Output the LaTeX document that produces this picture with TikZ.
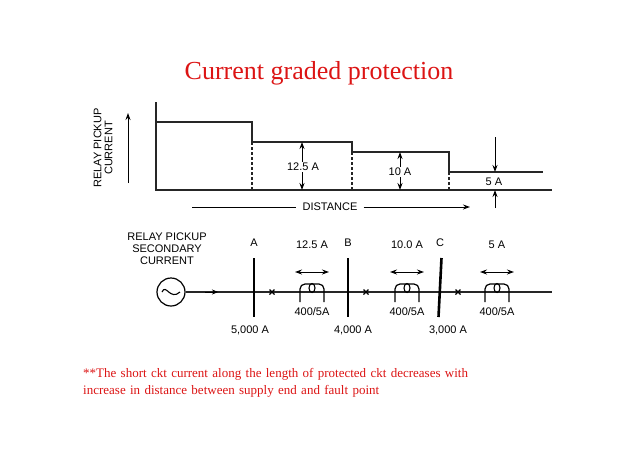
\documentclass[tikz,border=0pt]{standalone}
\usepackage{fontspec}
\setmainfont{Liberation Serif}
\newfontfamily\diag{Liberation Sans}
\usetikzlibrary{arrows.meta}
\definecolor{tred}{RGB}{220,20,20}
\begin{document}
\begin{tikzpicture}[x=1pt,y=-1pt,
  ln/.style={line width=1.2pt,black!85},
  lab/.style={font=\diag\fontsize{11}{12}\selectfont,inner sep=0pt},
  bus/.style={line width=2.6pt},
  dar/.style={line width=1pt,{Stealth[length=7pt,width=5pt]}-{Stealth[length=7pt,width=5pt]}},
  sar/.style={line width=1pt,-{Stealth[length=7pt,width=5pt]}}]
\useasboundingbox (0,0) rectangle (638,451);
\node[text=tred,font=\fontsize{26}{28}\selectfont] (title) at (319,73) {Current graded protection};
% top graph
\coordinate (o) at (156,190);
\coordinate (ytop) at (156,102);
\coordinate (xend) at (552,190);
\draw[ln] (ytop) -- (o) -- (xend);
\draw[ln] (156,122) -- (252,122) -- (252,142) -- (352,142) -- (352,152) -- (449,152) -- (449,172) -- (543,172);
\foreach \x/\t in {252/142,352/152,449/172} \draw[ln,dashed,dash pattern=on 3pt off 2pt] (\x,\t) -- (\x,190);
\coordinate (a1t) at (302,142); \coordinate (a1b) at (302,190);
\draw[dar] (a1t) -- (a1b);
\node[lab,fill=white,inner sep=1.5pt] (l125) at (303,167) {12.5 A};
\coordinate (a2t) at (400,152); \coordinate (a2b) at (400,190);
\draw[dar] (a2t) -- (a2b);
\node[lab,fill=white,inner sep=1.5pt] (l10) at (400,172) {10 A};
\coordinate (a3s) at (495,137); \coordinate (a3e) at (495,172);
\coordinate (a4s) at (495,208); \coordinate (a4e) at (495,190);
\draw[sar] (a3s) -- (a3e);
\draw[sar] (a4s) -- (a4e);
\node[lab] (l5) at (494,182) {5 A};
\coordinate (ya) at (128,183); \coordinate (yb) at (128,113);
\draw[sar] (ya) -- (yb);
\node[lab,rotate=90,align=center,font=\diag\fontsize{11}{11}\selectfont] (ylab) at (103,148) {RELAY PICKUP\\CURRENT};
\node[lab,inner xsep=6pt] (dist) at (330,207) {DISTANCE};
\coordinate (d1) at (192,207); \coordinate (d2) at (470,207);
\draw[line width=1pt] (d1) -- (dist.west);
\draw[sar] (dist.east) -- (d2);
% bottom one-line diagram
\node[circle,draw,line width=1.2pt,minimum size=28pt,inner sep=0pt] (src) at (171,292) {};
\draw[line width=1.1pt] (162,292) .. controls (166,283) and (170,301) .. (180,292);
\coordinate (lend) at (552,292);
\draw[ln] (src.east) -- (lend);
\coordinate (am) at (218,292);
\draw[-{Stealth[length=6pt,width=5pt]}] (205,292) -- (am);
\node[lab,align=center,font=\diag\fontsize{11}{12}\selectfont] (rps) at (167,249) {RELAY PICKUP\\SECONDARY\\CURRENT};
\foreach \x/\n/\d in {254/A/0,348/B/0,440/C/3}{
  \coordinate (bt\n) at (\x+\d/2,258); \coordinate (bb\n) at (\x-\d/2,317);
  \draw[bus] (bt\n) -- (bb\n);
  \node[lab] (n\n) at (\x,243) {\n};
}
\foreach \x in {272,366,458}{
  \draw[line width=1.2pt] (\x-2.5,289.5) -- (\x+2.5,294.5) (\x-2.5,294.5) -- (\x+2.5,289.5);
}
\foreach \x/\t in {312/12.5 A,407/10.0 A,497/5 A}{
  \draw[rounded corners=5pt,line width=1.2pt] (\x-12,302) -- (\x-12,284) -- (\x+12,284) -- (\x+12,302);
  \draw[line width=1.1pt] (\x,288) ellipse (3pt and 4.5pt);
  \node[lab] at (\x,245) {\t};
  \draw[dar] (\x-17,272) -- (\x+17,272);
  \node[lab] at (\x,312) {400/5A};
}
\node[lab] (c5) at (250,330) {5,000 A};
\node[lab] (c4) at (353,330) {4,000 A};
\node[lab] (c3) at (448,330) {3,000 A};
% footnote
\node[text=tred,font=\fontsize{13}{17}\selectfont,text width=484pt,align=left,anchor=north west,inner sep=0pt] (note) at (83,368)
{\makebox[484pt][s]{**The short ckt current along the length of protected ckt decreases with}\\ increase in distance between supply end and fault point};
\end{tikzpicture}
\end{document}
